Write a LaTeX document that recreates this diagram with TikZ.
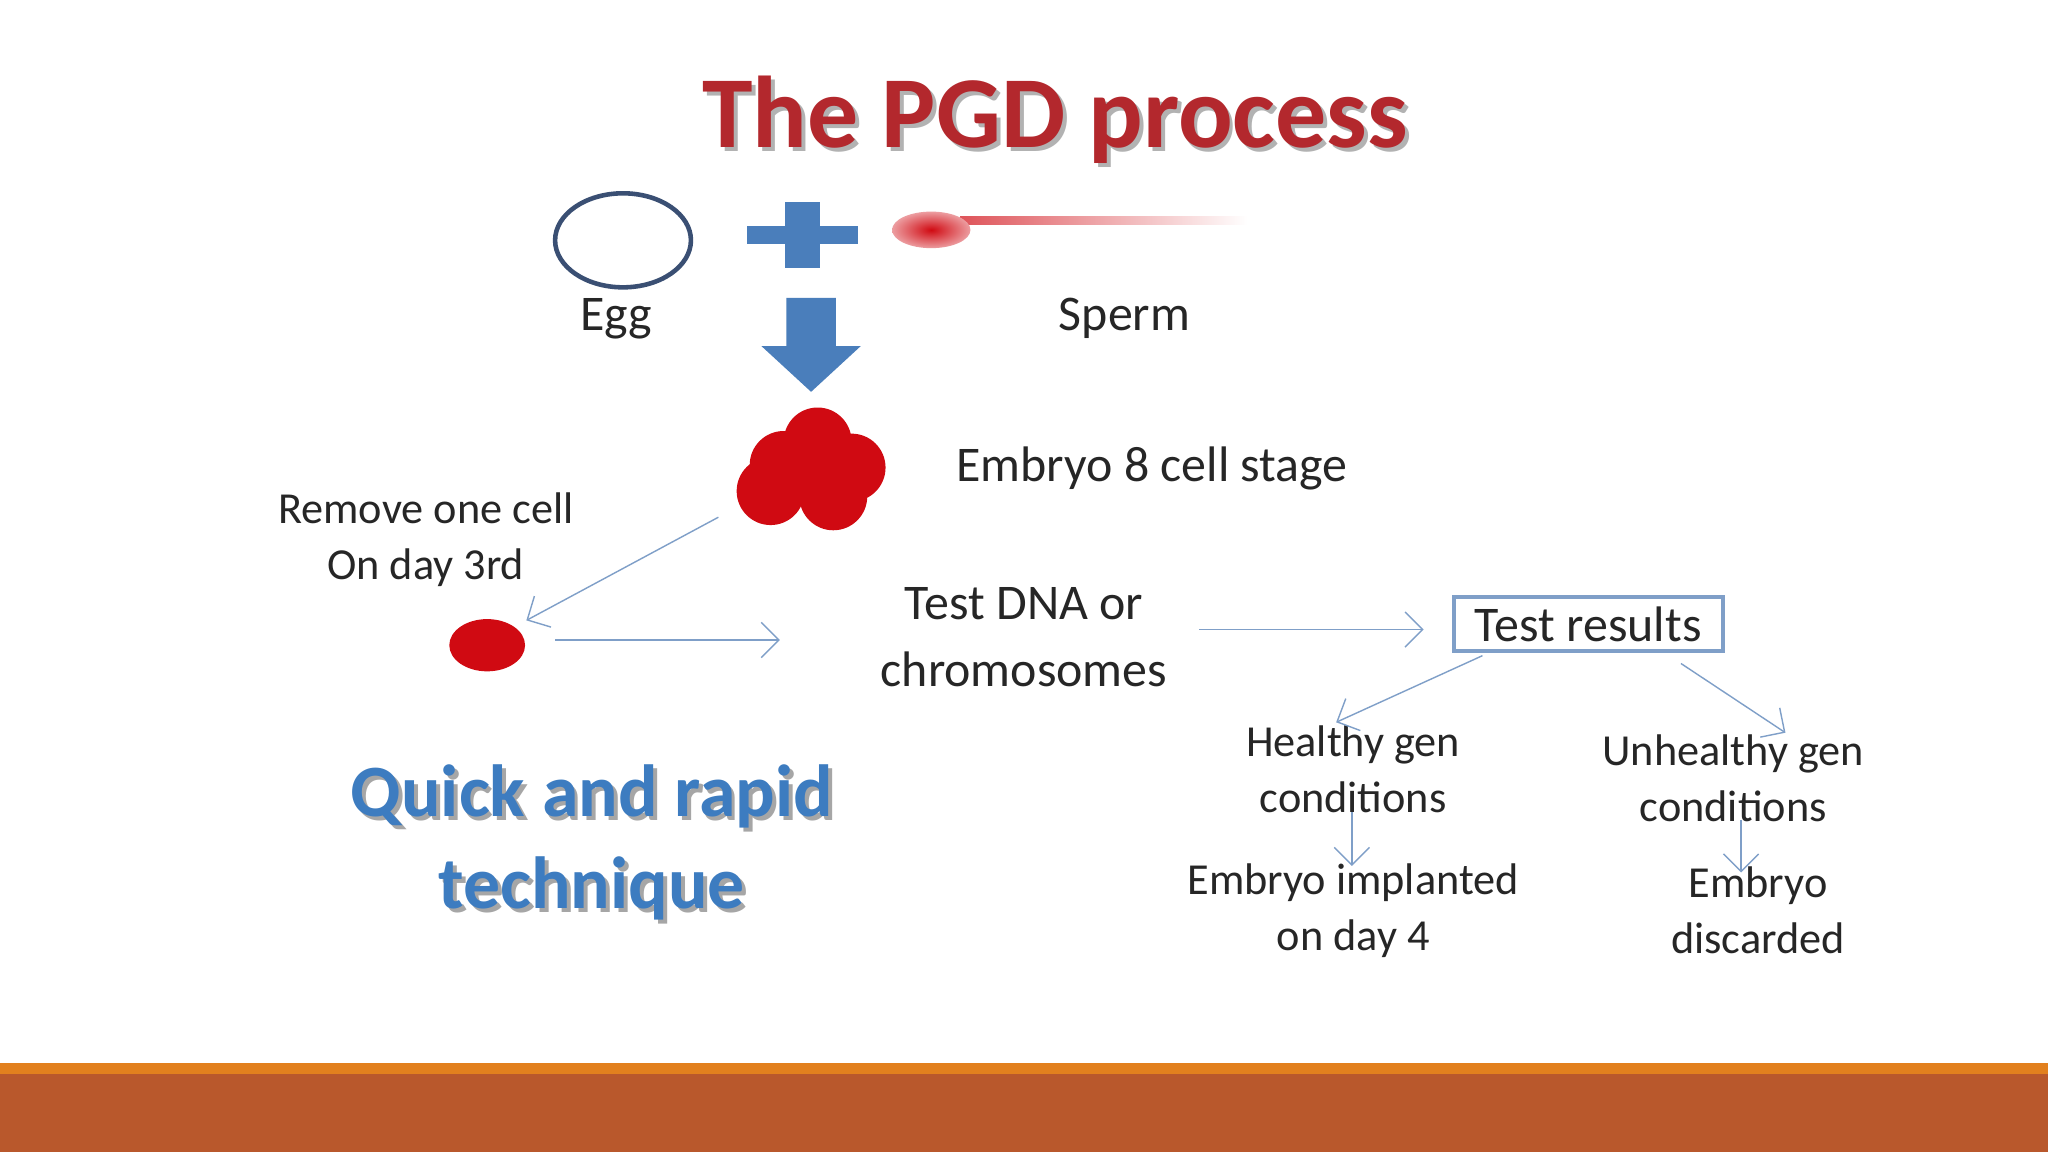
\documentclass[tikz,border=0pt]{standalone}
\usepackage{fontspec}
\setmainfont{Carlito}
\usetikzlibrary{positioning,arrows.meta}
\definecolor{titlered}{HTML}{B3282D}
\definecolor{cellred}{HTML}{D00A12}
\definecolor{plusblue}{HTML}{4A7EBB}
\definecolor{linkblue}{HTML}{7F9FC8}
\definecolor{navy}{HTML}{3A4F73}
\definecolor{barorange}{HTML}{E2801E}
\definecolor{barbrown}{HTML}{B9582C}
\definecolor{quickblue}{HTML}{3D7CC0}
\tikzset{
  lbl/.style = {align=center, text=black!85, font=\fontsize{12.6}{16}\selectfont},
  big/.style = {align=center, text=black!85, font=\fontsize{14.2}{19}\selectfont},
  link/.style = {draw=linkblue, -{Straight Barb[length=5pt]}, thin},
}
\begin{document}
\begin{tikzpicture}[x=0.013061cm, y=-0.013061cm]
\useasboundingbox (0,0) rectangle (1568,882);
\fill[white] (0,0) rectangle (1568,882);
\fill[barorange] (0,814) rectangle (1568,823);
\fill[barbrown] (0,822) rectangle (1568,882);

% title
\node[text=black!30, font=\fontsize{29}{31}\bfseries\selectfont] at (811,95) {The PGD process};
\node[text=titlered, font=\fontsize{29}{31}\bfseries\selectfont] (title) at (808,92) {The PGD process};

% egg, plus, sperm
\draw[navy, line width=1.3pt] (477,184) ellipse (52 and 36);
\fill[plusblue] (572,173) rectangle (657,187);
\fill[plusblue] (601,155) rectangle (628,205);
\shade[left color=cellred!70, right color=white] (735,172) rectangle (955,166);
\shade[inner color=cellred, outer color=cellred!40] (713,176) ellipse (30 and 14);
\node[big] (egg) at (472,244) {Egg};
\node[big] (sperm) at (861,244) {Sperm};

% big arrow
\fill[plusblue] (602,228) -- (640,228) -- (640,265) -- (659,265) -- (621,300)
  -- (583,265) -- (602,265) -- cycle;

% embryo
\foreach \p in {(626,338),(600,356),(652,358),(590,376),(638,380),(620,362)}
  \fill[cellred] \p circle (26);
\node[big] (embryo) at (882,359) {Embryo 8 cell stage};
\coordinate (emb) at (550,396);

\node[lbl] (remove) at (326,413) {Remove one cell\\On day 3rd};
\fill[cellred] (373,494) ellipse (29 and 20);
\coordinate (cellR) at (425,490);
\coordinate (cellE) at (403,475);
\draw[link] (emb) -- (cellE);

\node[big] (test) at (784,488) {Test DNA or\\chromosomes};
\coordinate (testW) at (597,490);
\draw[link] (cellR) -- (testW);

\node[big, draw=linkblue, line width=1.2pt, minimum width=2.69cm,
  minimum height=0.54cm, inner sep=2pt] (results) at (1216,478) {Test results};
\coordinate (testE) at (918,482);
\coordinate (resW) at (1090,482);
\draw[link] (testE) -- (resW);

\node[lbl] (healthy) at (1036,589) {Healthy gen\\conditions};
\node[lbl] (unhealthy) at (1327,596) {Unhealthy gen\\conditions};
\coordinate (resL) at (1135,502);
\coordinate (resR) at (1287,508);
\coordinate (hN) at (1023,553);
\coordinate (uN) at (1367,561);
\draw[link] (resL) -- (hN);
\draw[link] (resR) -- (uN);

\node[lbl] (implanted) at (1036,697) {Embryo implanted\\on day 4};
\node[lbl] (discarded) at (1346,697) {Embryo\\discarded};
\coordinate (hS) at (1035,622);
\coordinate (hI) at (1035,663);
\coordinate (uS) at (1333,628);
\coordinate (uD) at (1333,668);
\draw[link] (hS) -- (hI);
\draw[link] (uS) -- (uD);

% quick
\node[align=center, text=black!35, font=\fontsize{21}{26}\bfseries\selectfont] at (456,648) {Quick and rapid\\technique};
\node[align=center, text=quickblue, font=\fontsize{21}{26}\bfseries\selectfont] (quick) at (453,645) {Quick and rapid\\technique};
\end{tikzpicture}
\end{document}
